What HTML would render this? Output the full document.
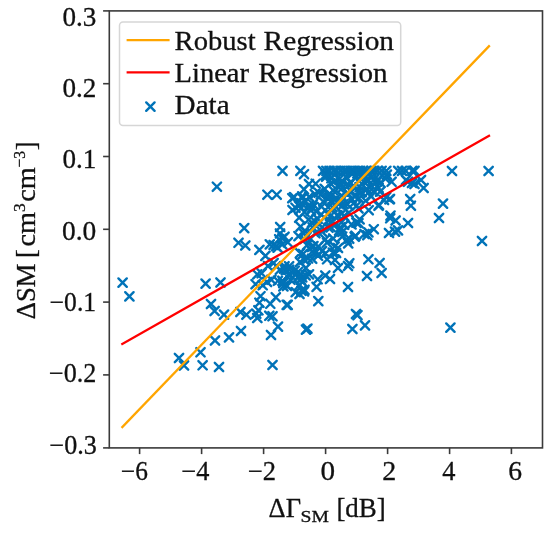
<!DOCTYPE html>
<html lang="en"><head><meta charset="utf-8"><title>Regression scatter plot</title>
<style>
html,body{margin:0;padding:0;background:#fff}
svg{display:block}
text{font-family:"Liberation Serif","DejaVu Serif",serif;fill:#111;stroke:#111;stroke-width:0.3px}
</style></head><body>
<svg width="550" height="535" viewBox="0 0 550 535">
<defs><g id="m"><path d="M-4.2-4.2L4.2 4.2M-4.2 4.2L4.2-4.2" fill="none" stroke="#0173b8" stroke-width="2.4" stroke-linecap="round"/></g></defs>
<rect width="550" height="535" fill="#fff"/>
<g><use href="#m" x="122.6" y="282.6"/><use href="#m" x="129.4" y="296.4"/><use href="#m" x="205.6" y="283.6"/><use href="#m" x="220.5" y="282.5"/><use href="#m" x="211" y="304"/><use href="#m" x="214.6" y="311"/><use href="#m" x="215" y="340.5"/><use href="#m" x="200.5" y="352.3"/><use href="#m" x="179" y="358"/><use href="#m" x="184" y="365.5"/><use href="#m" x="202.6" y="365.3"/><use href="#m" x="219" y="367"/><use href="#m" x="229" y="337.4"/><use href="#m" x="241" y="331"/><use href="#m" x="224" y="314.6"/><use href="#m" x="272.5" y="365"/><use href="#m" x="216.9" y="186.7"/><use href="#m" x="244.2" y="228.1"/><use href="#m" x="238.5" y="242.8"/><use href="#m" x="245.3" y="245.5"/><use href="#m" x="259.4" y="249.9"/><use href="#m" x="265.4" y="255.9"/><use href="#m" x="269.8" y="244.4"/><use href="#m" x="273.6" y="245"/><use href="#m" x="280.2" y="227"/><use href="#m" x="280" y="233.5"/><use href="#m" x="284.5" y="236.8"/><use href="#m" x="287.8" y="242.3"/><use href="#m" x="282.3" y="244.4"/><use href="#m" x="268" y="266"/><use href="#m" x="273.6" y="263"/><use href="#m" x="284.5" y="266.3"/><use href="#m" x="282.5" y="170.9"/><use href="#m" x="300.4" y="170.9"/><use href="#m" x="304" y="174.2"/><use href="#m" x="267.4" y="194.7"/><use href="#m" x="276.7" y="194.7"/><use href="#m" x="292.3" y="198.2"/><use href="#m" x="304" y="189.4"/><use href="#m" x="309" y="184"/><use href="#m" x="292.5" y="210"/><use href="#m" x="299" y="205.8"/><use href="#m" x="302.3" y="198"/><use href="#m" x="304.5" y="212"/><use href="#m" x="421" y="180"/><use href="#m" x="423.6" y="188"/><use href="#m" x="412" y="183"/><use href="#m" x="406" y="180"/><use href="#m" x="410.2" y="199"/><use href="#m" x="410.9" y="205.7"/><use href="#m" x="390" y="199"/><use href="#m" x="443" y="203.6"/><use href="#m" x="439" y="218"/><use href="#m" x="390.2" y="218.3"/><use href="#m" x="395.6" y="220.5"/><use href="#m" x="408" y="223"/><use href="#m" x="398" y="230.4"/><use href="#m" x="389" y="233"/><use href="#m" x="395" y="231.6"/><use href="#m" x="373.8" y="229.2"/><use href="#m" x="368.4" y="232.4"/><use href="#m" x="364.5" y="234"/><use href="#m" x="367.3" y="235.2"/><use href="#m" x="379" y="205"/><use href="#m" x="384" y="200"/><use href="#m" x="368.4" y="259.3"/><use href="#m" x="379.6" y="263"/><use href="#m" x="349.3" y="263.3"/><use href="#m" x="336" y="253"/><use href="#m" x="338" y="248"/><use href="#m" x="335" y="260"/><use href="#m" x="354.7" y="236.8"/><use href="#m" x="348.2" y="243.4"/><use href="#m" x="359.6" y="219.4"/><use href="#m" x="356.4" y="222.6"/><use href="#m" x="452" y="171"/><use href="#m" x="488.6" y="171"/><use href="#m" x="482" y="241"/><use href="#m" x="450.4" y="327.6"/><use href="#m" x="338" y="268"/><use href="#m" x="348" y="266"/><use href="#m" x="367" y="276"/><use href="#m" x="381.6" y="273"/><use href="#m" x="348" y="287"/><use href="#m" x="356" y="314"/><use href="#m" x="357.5" y="315.2"/><use href="#m" x="352.4" y="329"/><use href="#m" x="365" y="325.4"/><use href="#m" x="330" y="279"/><use href="#m" x="318.3" y="301.1"/><use href="#m" x="287.7" y="304.9"/><use href="#m" x="307.4" y="328.6"/><use href="#m" x="306" y="329.6"/><use href="#m" x="316.6" y="286.9"/><use href="#m" x="317.7" y="279.3"/><use href="#m" x="325.3" y="275.5"/><use href="#m" x="301.4" y="290.7"/><use href="#m" x="299.2" y="285.3"/><use href="#m" x="302.4" y="282"/><use href="#m" x="309" y="274.4"/><use href="#m" x="290.5" y="279.8"/><use href="#m" x="287" y="286"/><use href="#m" x="257.3" y="274.4"/><use href="#m" x="261.6" y="273.3"/><use href="#m" x="255.6" y="284.2"/><use href="#m" x="262.7" y="285.3"/><use href="#m" x="267" y="282"/><use href="#m" x="271.4" y="279.8"/><use href="#m" x="260.5" y="296.2"/><use href="#m" x="259.4" y="302.7"/><use href="#m" x="275.8" y="297.3"/><use href="#m" x="270.3" y="303.8"/><use href="#m" x="286.7" y="304.9"/><use href="#m" x="283.4" y="286.4"/><use href="#m" x="240.4" y="312"/><use href="#m" x="246.4" y="314.7"/><use href="#m" x="256.2" y="313.6"/><use href="#m" x="258.4" y="310.3"/><use href="#m" x="257.3" y="318"/><use href="#m" x="269.3" y="315.8"/><use href="#m" x="272.5" y="316.3"/><use href="#m" x="271" y="335"/><use href="#m" x="278" y="326.6"/><use href="#m" x="398.2" y="170.9"/><use href="#m" x="402" y="170.9"/><use href="#m" x="405.8" y="170.9"/><use href="#m" x="412.3" y="170.9"/><use href="#m" x="414.5" y="170.9"/><use href="#m" x="414.5" y="184"/><use href="#m" x="408" y="181.8"/><use href="#m" x="389.4" y="199.3"/><use href="#m" x="386.2" y="197"/><use href="#m" x="378.5" y="205.8"/><use href="#m" x="368.7" y="210.2"/><use href="#m" x="390.5" y="215.6"/><use href="#m" x="391.6" y="181.8"/><use href="#m" x="303" y="254"/><use href="#m" x="300" y="262"/><use href="#m" x="308" y="258.5"/><use href="#m" x="312" y="247"/><use href="#m" x="322" y="251"/><use href="#m" x="323" y="170.9"/><use href="#m" x="326.4" y="170.9"/><use href="#m" x="329.5" y="170.9"/><use href="#m" x="333.7" y="170.9"/><use href="#m" x="336.6" y="170.9"/><use href="#m" x="340.5" y="170.9"/><use href="#m" x="344" y="170.9"/><use href="#m" x="346.9" y="170.9"/><use href="#m" x="350.7" y="170.9"/><use href="#m" x="353.6" y="170.9"/><use href="#m" x="357.3" y="170.9"/><use href="#m" x="360.2" y="170.9"/><use href="#m" x="363.2" y="170.9"/><use href="#m" x="366.8" y="170.9"/><use href="#m" x="371.3" y="170.9"/><use href="#m" x="374.3" y="170.9"/><use href="#m" x="377.6" y="170.9"/><use href="#m" x="381.6" y="170.9"/><use href="#m" x="386.3" y="170.9"/><use href="#m" x="325.6" y="174.9"/><use href="#m" x="352.4" y="173.8"/><use href="#m" x="357.3" y="173.3"/><use href="#m" x="368.4" y="174"/><use href="#m" x="386.9" y="174.6"/><use href="#m" x="326.1" y="176.8"/><use href="#m" x="331.4" y="178.3"/><use href="#m" x="339" y="179.4"/><use href="#m" x="341.9" y="180.8"/><use href="#m" x="346.9" y="177.8"/><use href="#m" x="356.4" y="176.3"/><use href="#m" x="360.9" y="175.7"/><use href="#m" x="367.9" y="179.6"/><use href="#m" x="373.4" y="180.2"/><use href="#m" x="378" y="179.3"/><use href="#m" x="385.5" y="178.6"/><use href="#m" x="330.4" y="183.3"/><use href="#m" x="334.9" y="181"/><use href="#m" x="341.1" y="184.2"/><use href="#m" x="348.7" y="185.1"/><use href="#m" x="350.8" y="182.8"/><use href="#m" x="358.9" y="180.8"/><use href="#m" x="363.8" y="181.6"/><use href="#m" x="367.9" y="181"/><use href="#m" x="377.4" y="181.4"/><use href="#m" x="380.6" y="182.8"/><use href="#m" x="324.7" y="188.9"/><use href="#m" x="333.1" y="190.3"/><use href="#m" x="339" y="187.4"/><use href="#m" x="342.5" y="187.8"/><use href="#m" x="351.1" y="191.1"/><use href="#m" x="353.1" y="186.8"/><use href="#m" x="359.6" y="187.1"/><use href="#m" x="366.9" y="189.1"/><use href="#m" x="371.7" y="185.9"/><use href="#m" x="378.6" y="187.9"/><use href="#m" x="328.6" y="194.7"/><use href="#m" x="331.6" y="195.9"/><use href="#m" x="341.5" y="195.8"/><use href="#m" x="347.6" y="193.2"/><use href="#m" x="351.5" y="191.6"/><use href="#m" x="358.7" y="191.4"/><use href="#m" x="361.7" y="192.2"/><use href="#m" x="368.2" y="192.9"/><use href="#m" x="373.6" y="191.1"/><use href="#m" x="380.1" y="191.6"/><use href="#m" x="329.1" y="197.6"/><use href="#m" x="336.2" y="198.2"/><use href="#m" x="341" y="200.9"/><use href="#m" x="351.7" y="198.8"/><use href="#m" x="354.9" y="196.7"/><use href="#m" x="358.9" y="198.1"/><use href="#m" x="365.7" y="200.8"/><use href="#m" x="371.2" y="196.4"/><use href="#m" x="339.3" y="202.4"/><use href="#m" x="347.5" y="204.4"/><use href="#m" x="353.5" y="203.3"/><use href="#m" x="356.5" y="205.9"/><use href="#m" x="318.7" y="192.7"/><use href="#m" x="320.8" y="194.7"/><use href="#m" x="327.5" y="198.5"/><use href="#m" x="312.9" y="204.2"/><use href="#m" x="323.3" y="201.6"/><use href="#m" x="331.6" y="201"/><use href="#m" x="337.8" y="203.4"/><use href="#m" x="308.3" y="206.3"/><use href="#m" x="312.3" y="207.6"/><use href="#m" x="321.5" y="206.7"/><use href="#m" x="328.2" y="207.2"/><use href="#m" x="332.5" y="207.3"/><use href="#m" x="336" y="206.8"/><use href="#m" x="343.6" y="204.2"/><use href="#m" x="358.5" y="208.5"/><use href="#m" x="310.9" y="210.5"/><use href="#m" x="316.2" y="211.4"/><use href="#m" x="321.1" y="214.5"/><use href="#m" x="329" y="213.2"/><use href="#m" x="337.1" y="215.3"/><use href="#m" x="341.9" y="213.5"/><use href="#m" x="348.8" y="212.9"/><use href="#m" x="308.5" y="219.8"/><use href="#m" x="314.7" y="221.2"/><use href="#m" x="317.7" y="218.9"/><use href="#m" x="328.3" y="220.6"/><use href="#m" x="330.1" y="216.3"/><use href="#m" x="338.6" y="216"/><use href="#m" x="344" y="216"/><use href="#m" x="300.5" y="226.6"/><use href="#m" x="312" y="222.6"/><use href="#m" x="318.5" y="223.7"/><use href="#m" x="322.3" y="227.2"/><use href="#m" x="331" y="222.3"/><use href="#m" x="335.2" y="224.4"/><use href="#m" x="341.2" y="222.5"/><use href="#m" x="304.9" y="230.7"/><use href="#m" x="312.6" y="227.4"/><use href="#m" x="322" y="231.7"/><use href="#m" x="328.5" y="227.7"/><use href="#m" x="330.9" y="227.3"/><use href="#m" x="298.5" y="236.1"/><use href="#m" x="303.8" y="233.3"/><use href="#m" x="306.6" y="236.8"/><use href="#m" x="315.4" y="233.2"/><use href="#m" x="304.3" y="239.1"/><use href="#m" x="310.5" y="238.8"/><use href="#m" x="315.7" y="183.7"/><use href="#m" x="314.8" y="194.1"/><use href="#m" x="294.1" y="197.1"/><use href="#m" x="302.3" y="196.4"/><use href="#m" x="309.2" y="196.9"/><use href="#m" x="301.5" y="203.2"/><use href="#m" x="305.2" y="201.6"/><use href="#m" x="295.5" y="207.7"/><use href="#m" x="301.2" y="208.1"/><use href="#m" x="299.2" y="217.7"/><use href="#m" x="325.3" y="239.3"/><use href="#m" x="333.2" y="238.5"/><use href="#m" x="307" y="245.2"/><use href="#m" x="313.4" y="246.1"/><use href="#m" x="318.3" y="246.5"/><use href="#m" x="327" y="242.7"/><use href="#m" x="334.6" y="246.5"/><use href="#m" x="300.1" y="253.1"/><use href="#m" x="312.1" y="251.7"/><use href="#m" x="316.3" y="251.6"/><use href="#m" x="325.7" y="253.3"/><use href="#m" x="332.9" y="252.6"/><use href="#m" x="304.2" y="259.7"/><use href="#m" x="312.1" y="258.7"/><use href="#m" x="318" y="255.8"/><use href="#m" x="327.1" y="259.3"/><use href="#m" x="279.2" y="239.3"/><use href="#m" x="282.4" y="238.4"/><use href="#m" x="276.1" y="246.1"/><use href="#m" x="277.6" y="247.6"/><use href="#m" x="289.1" y="266.3"/><use href="#m" x="282.4" y="280.8"/><use href="#m" x="289.6" y="274.1"/><use href="#m" x="279.8" y="269.8"/><use href="#m" x="289.2" y="269.8"/><use href="#m" x="284.1" y="268.6"/><use href="#m" x="283.3" y="283.1"/><use href="#m" x="277.9" y="280.8"/><use href="#m" x="283.1" y="282"/><use href="#m" x="285.8" y="270.2"/><use href="#m" x="288.6" y="274.8"/><use href="#m" x="276.3" y="266.1"/><use href="#m" x="300.9" y="279.7"/><use href="#m" x="298.2" y="271.7"/><use href="#m" x="298.8" y="276.2"/><use href="#m" x="305.8" y="268"/><use href="#m" x="304.5" y="289.8"/><use href="#m" x="295.7" y="292.1"/><use href="#m" x="304" y="291.4"/><use href="#m" x="298.1" y="277.7"/><use href="#m" x="299.5" y="294"/><use href="#m" x="302.2" y="277.4"/><use href="#m" x="300" y="275.2"/><use href="#m" x="294.7" y="270.6"/><use href="#m" x="305.7" y="275.4"/><use href="#m" x="358.5" y="223.2"/><use href="#m" x="342.4" y="231.9"/><use href="#m" x="340.6" y="227.3"/><use href="#m" x="355.5" y="235.8"/><use href="#m" x="349.2" y="238.7"/><use href="#m" x="346.8" y="239.8"/><use href="#m" x="351.5" y="224.4"/><use href="#m" x="339.1" y="230.6"/><use href="#m" x="344.2" y="224.8"/><use href="#m" x="342.2" y="236.6"/></g>
<line x1="122.3" y1="427" x2="489" y2="46.2" stroke="#ffa500" stroke-width="2.3" stroke-linecap="square"/>
<line x1="122.3" y1="344" x2="489" y2="135.7" stroke="#ff0000" stroke-width="2.3" stroke-linecap="square"/>
<rect x="109.3" y="10.9" width="433.2" height="437.0" fill="none" stroke="#3a3a3a" stroke-width="1.6"/>
<g stroke="#3a3a3a" stroke-width="1.6"><line x1="139.6" y1="447.9" x2="139.6" y2="454.09999999999997"/><line x1="201.6" y1="447.9" x2="201.6" y2="454.09999999999997"/><line x1="263.6" y1="447.9" x2="263.6" y2="454.09999999999997"/><line x1="325.6" y1="447.9" x2="325.6" y2="454.09999999999997"/><line x1="387.6" y1="447.9" x2="387.6" y2="454.09999999999997"/><line x1="449.6" y1="447.9" x2="449.6" y2="454.09999999999997"/><line x1="511.4" y1="447.9" x2="511.4" y2="454.09999999999997"/><line x1="109.3" y1="10.9" x2="103.1" y2="10.9"/><line x1="109.3" y1="83.7" x2="103.1" y2="83.7"/><line x1="109.3" y1="156.5" x2="103.1" y2="156.5"/><line x1="109.3" y1="229.3" x2="103.1" y2="229.3"/><line x1="109.3" y1="302.1" x2="103.1" y2="302.1"/><line x1="109.3" y1="374.9" x2="103.1" y2="374.9"/><line x1="109.3" y1="447.9" x2="103.1" y2="447.9"/></g>
<g font-size="26.5"><text x="62.4" y="25.6" textLength="33.9" lengthAdjust="spacingAndGlyphs">0.3</text><text x="62.4" y="97.4" textLength="33.9" lengthAdjust="spacingAndGlyphs">0.2</text><text x="62.4" y="168.4" textLength="33.9" lengthAdjust="spacingAndGlyphs">0.1</text><text x="62.0" y="239.6" textLength="34.3" lengthAdjust="spacingAndGlyphs">0.0</text><text x="49.7" y="311.3" textLength="46.4" lengthAdjust="spacingAndGlyphs">−0.1</text><text x="48.9" y="382.2" textLength="47.4" lengthAdjust="spacingAndGlyphs">−0.2</text><text x="49.4" y="454.2" textLength="47.4" lengthAdjust="spacingAndGlyphs">−0.3</text><text x="121" y="479.6" textLength="27" lengthAdjust="spacingAndGlyphs">−6</text><text x="181.4" y="479.6" textLength="28" lengthAdjust="spacingAndGlyphs">−4</text><text x="247.9" y="479.6" textLength="28.2" lengthAdjust="spacingAndGlyphs">−2</text><text x="320.6" y="479.6" textLength="14.6" lengthAdjust="spacingAndGlyphs">0</text><text x="382.2" y="479.6" textLength="14" lengthAdjust="spacingAndGlyphs">2</text><text x="442.2" y="479.6" textLength="13.2" lengthAdjust="spacingAndGlyphs">4</text><text x="508.2" y="479.6" textLength="13.8" lengthAdjust="spacingAndGlyphs">6</text></g>
<!-- legend -->
<rect x="119.5" y="22" width="281.2" height="103.5" rx="3.5" fill="#fff" fill-opacity="0.8" stroke="#d6d6d6" stroke-width="1.5"/>
<line x1="126.6" y1="40.1" x2="169.6" y2="40.1" stroke="#ffa500" stroke-width="2.3"/>
<line x1="126.6" y1="72.4" x2="169.6" y2="72.4" stroke="#ff0000" stroke-width="2.3"/>
<use href="#m" x="150.4" y="106.6"/>
<g font-size="26.5">
<text x="174.6" y="50.2" textLength="81" lengthAdjust="spacingAndGlyphs">Robust</text>
<text x="263.6" y="50.2" textLength="130.4" lengthAdjust="spacingAndGlyphs">Regression</text>
<text x="174.6" y="81.8" textLength="74.4" lengthAdjust="spacingAndGlyphs">Linear</text>
<text x="258.2" y="81.8" textLength="129.4" lengthAdjust="spacingAndGlyphs">Regression</text>
<text x="174.6" y="113.8" textLength="55" lengthAdjust="spacingAndGlyphs">Data</text>
</g>
<!-- axis labels -->
<g font-size="26.5">
<text x="268.6" y="517">ΔΓ</text>
<text x="300.5" y="522" font-size="17.5" textLength="28.4" lengthAdjust="spacingAndGlyphs">SM</text>
<text x="336.4" y="517" textLength="49.4" lengthAdjust="spacingAndGlyphs">[dB]</text>
</g>
<g font-size="26.5" transform="translate(34.6 318.5) rotate(-90)">
<text x="-0.8" y="0" textLength="55.8" lengthAdjust="spacingAndGlyphs">ΔSM</text>
<text x="60.4" y="0">[</text>
<text x="71.9" y="0" textLength="34.6" lengthAdjust="spacingAndGlyphs">cm</text>
<text x="106.6" y="-9.6" font-size="17.5">3</text>
<text x="116.8" y="0" textLength="34.6" lengthAdjust="spacingAndGlyphs">cm</text>
<text x="150.9" y="-9.6" font-size="17.5" textLength="16.6" lengthAdjust="spacingAndGlyphs">−3</text>
<text x="168.3" y="0">]</text>
</g>
</svg>
</body></html>
